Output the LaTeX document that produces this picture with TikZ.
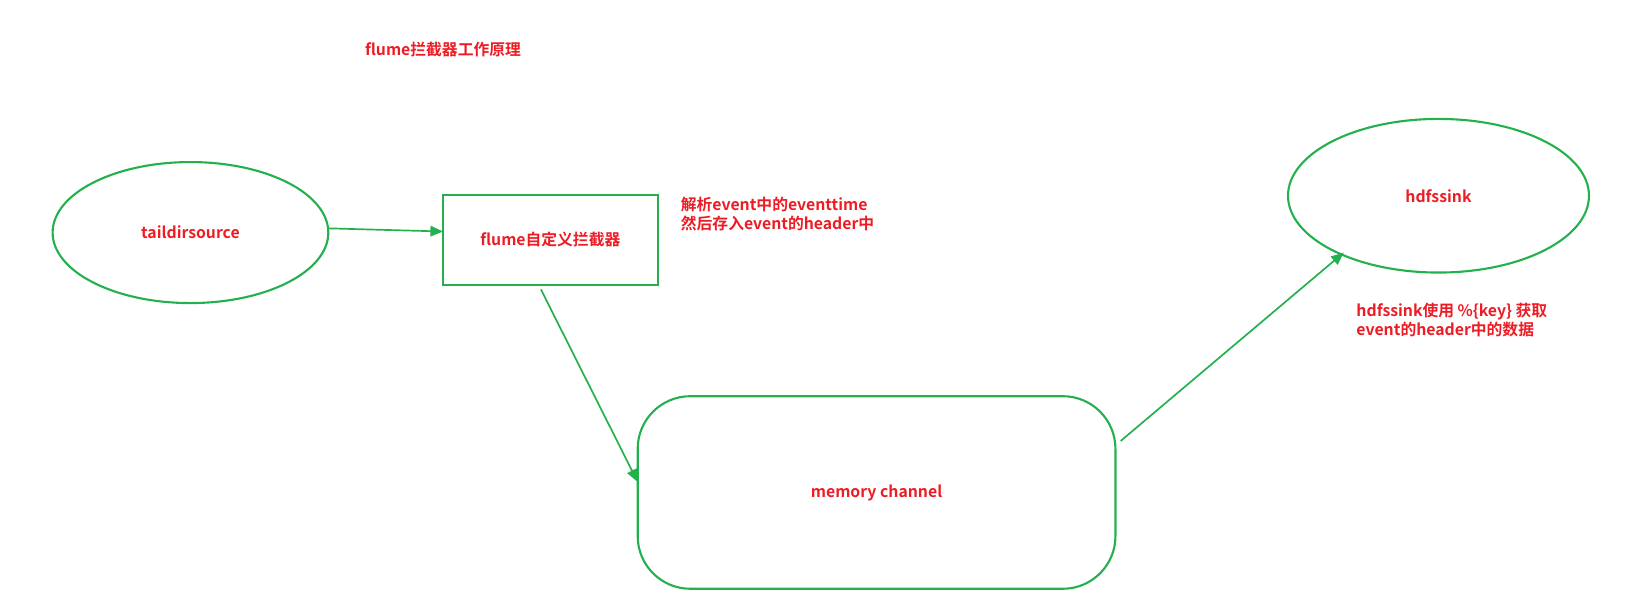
\documentclass[tikz,border=0pt]{standalone}
\usepackage{fontspec}
\setmainfont{Noto Sans CJK SC}[BoldFont={* Bold}]
\usetikzlibrary{shapes.geometric,arrows.meta}
\definecolor{gr}{RGB}{34,177,76}
\definecolor{rd}{RGB}{237,28,36}
\begin{document}
\begin{tikzpicture}[x=0.5pt,y=-0.5pt,
  lbl/.style={text=rd,font=\fontsize{7.5}{9}\selectfont\bfseries},
  shp/.style={draw=gr,line width=1pt},
  arr/.style={draw=gr,line width=0.8pt,-{Triangle[length=6pt,width=5pt]}}]
\useasboundingbox (0,0) rectangle (1568,574);
\node[lbl] (t) at (421,47) {flume拦截器工作原理};
\node[shp,ellipse,minimum width=131pt,minimum height=67pt,lbl] (src) at (181,221) {taildirsource};
\node[shp,rectangle,minimum width=102pt,minimum height=43pt,lbl] (ic) at (523,228) {flume自定义拦截器};
\node[lbl,anchor=north west,align=left] (n1) at (640,180) {解析event中的eventtime\\然后存入event的header中};
\node[shp,ellipse,minimum width=143pt,minimum height=73pt,lbl] (sink) at (1367,186) {hdfssink};
\node[lbl,anchor=north west,align=left] (n2) at (1282,281) {hdfssink使用 \%\{key\} 获取\\event的header中的数据};
\node[shp,rectangle,rounded corners=25pt,minimum width=227pt,minimum height=91.5pt,lbl] (mc) at (833,468) {memory channel};
\coordinate (a1) at (312,217);
\coordinate (a2) at (421,220);
\coordinate (b1) at (514,275);
\coordinate (b2) at (606,458);
\coordinate (c1) at (1065,419);
\coordinate (c2) at (1277,240);
\draw[arr] (a1) -- (a2);
\draw[arr] (b1) -- (b2);
\draw[arr] (c1) -- (c2);
\end{tikzpicture}
\end{document}
